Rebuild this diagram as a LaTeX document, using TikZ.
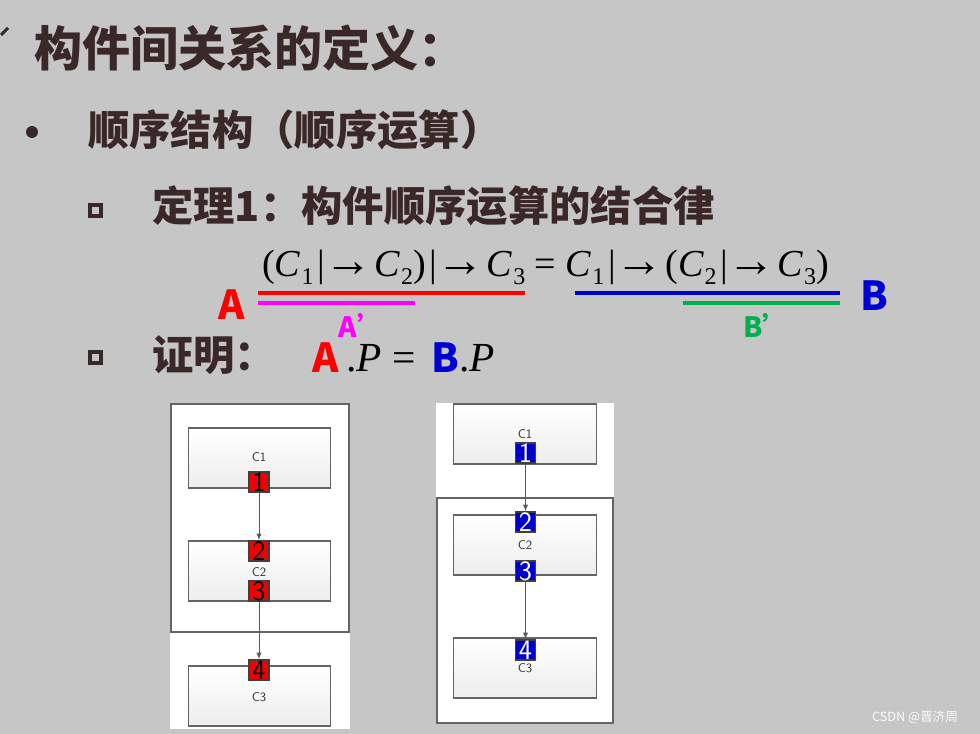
\documentclass[tikz,border=0pt]{standalone}
\usepackage{fontspec}
\setmainfont{Liberation Serif}
\newfontfamily\cjk{Noto Sans CJK SC}
\newfontfamily\lab{Noto Sans CJK SC}
\usetikzlibrary{positioning,arrows.meta}

\definecolor{slide}{RGB}{198,198,198}
\definecolor{ink}{RGB}{58,40,40}
\definecolor{tagred}{RGB}{240,0,0}
\definecolor{tagblue}{RGB}{0,0,200}
\definecolor{lnred}{RGB}{255,0,0}
\definecolor{lnmag}{RGB}{255,0,255}
\definecolor{lnblue}{RGB}{0,0,210}
\definecolor{lngreen}{RGB}{0,176,80}
\definecolor{edge}{RGB}{100,100,100}

\newcommand\cc[1]{\textit{C}\kern0.02em\raisebox{-0.5ex}{\fontsize{18}{18}\selectfont #1}}
\newcommand\sq{\kern0.1em|\kern-0.02em{\fontsize{36}{36}\selectfont→}\kern0.06em}

\tikzset{
  headline/.style={anchor=west,text=ink,font=\cjk\bfseries\fontsize{36}{42}\selectfont},
  subline/.style={anchor=west,text=ink,font=\cjk\bfseries\fontsize{31}{38}\selectfont},
  biglab/.style={font=\lab\bfseries\fontsize{30}{30}\selectfont},
  smalllab/.style={font=\lab\bfseries\fontsize{21}{21}\selectfont},
  uline/.style={line width=3pt},
  frame/.style={draw=edge,fill=white,line width=0.8pt},
  compbox/.style={draw=edge,line width=0.9pt,top color=white,bottom color=black!7,
    minimum width=107pt,minimum height=45pt},
  redtag/.style={draw=black!75,line width=1.2pt,fill=tagred,minimum size=15pt,
    font=\sffamily\fontsize{21}{21}\selectfont,text=black},
  bluetag/.style={draw=black!75,line width=1.2pt,fill=tagblue,minimum size=15pt,
    font=\sffamily\fontsize{21}{21}\selectfont,text=white},
  boxlab/.style={font=\sffamily\fontsize{9.5}{9.5}\selectfont,text=black!80},
  link/.style={draw=black!65,line width=0.7pt,-{Latex[length=5pt,width=4pt]}}
}

\begin{document}
\begin{tikzpicture}[x=0.75pt,y=-0.75pt,every node/.style={inner sep=0pt}]
\useasboundingbox (0,0) rectangle (980,734);
\fill[slide] (0,0) rectangle (980,734);

% headings
\draw[ink,line width=2.2pt] (1,35) -- (8,28);
\node[headline] (title) at (34,48) {构件间关系的定义：};
\fill[ink] (32,132) circle (6);
\node[subline] (seq) at (88,130) {顺序结构（顺序运算）};
\draw[ink,line width=2.5pt] (90,205) rectangle (101,216);
\node[subline] (thm) at (152,206) {定理1：构件顺序运算的结合律};
\draw[ink,line width=2.5pt] (90,352) rectangle (101,363);
\node[subline] (prf) at (152,355) {证明：};

% formula
\node[anchor=base west,font=\fontsize{28.6}{34}\selectfont] (law) at (262,276)
  {(\cc1\sq\cc2)\sq\cc3 = \cc1\sq(\cc2\sq\cc3)};
\draw[uline,lnred] (258,293) -- (525,293);
\draw[uline,lnmag] (258,303) -- (415,303);
\draw[uline,lnblue] (575,293) -- (840,293);
\draw[uline,lngreen] (683,303) -- (840,303);
\node[biglab,text=lnred] (la) at (232,305) {A};
\node[smalllab,text=lnmag] (lap) at (362,325) {A’};
\node[biglab,text=lnblue] (lb) at (874,296) {B};
\node[smalllab,text=lngreen] (lbp) at (767,325) {B’};

% A.P = B.P
\node[biglab,text=lnred] (pa) at (326,358) {A};
\node[anchor=west,font=\fontsize{31}{36}\selectfont,right=5pt of pa] (pae) {.\textit{P} =};
\node[biglab,text=lnblue] (pb) at (445,358) {B};
\node[anchor=west,font=\fontsize{31}{36}\selectfont,right=0pt of pb] (pbe) {.\textit{P}};

% left: (C1 |-> C2) |-> C3
\fill[white] (170,632) rectangle (350,729);
\draw[frame] (171,404) rectangle (349,632);
\node[compbox] (a1) at (259.5,458) {};
\node[compbox] (a2) at (259.5,571) {};
\node[compbox] (a3) at (259.5,696) {};
\node[boxlab] at (259,457) {C1};
\node[boxlab] at (259,572) {C2};
\node[boxlab] at (259,697) {C3};
\node[redtag] (r1) at (259,482) {1};
\node[redtag] (r2) at (259,551) {2};
\node[redtag] (r3) at (259,591) {3};
\node[redtag] (r4) at (259,670) {4};
\draw[link] (r1) -- (r2);
\draw[link] (r3) -- (r4);

% right: C1 |-> (C2 |-> C3)
\fill[white] (436,403) rectangle (614,498);
\draw[frame] (437,498) rectangle (613,723);
\node[compbox] (b1) at (525,434) {};
\node[compbox] (b2) at (525,545) {};
\node[compbox] (b3) at (525,668) {};
\node[boxlab] at (525,434) {C1};
\node[boxlab] at (525,545) {C2};
\node[boxlab] at (525,668) {C3};
\node[bluetag] (u1) at (525.5,453) {1};
\node[bluetag] (u2) at (525.5,522) {2};
\node[bluetag] (u3) at (525.5,571) {3};
\node[bluetag] (u4) at (525.5,650) {4};
\draw[link] (u1) -- (u2);
\draw[link] (u3) -- (u4);

\node[font=\cjk\fontsize{9.5}{10}\selectfont,text=white!92!slide] (mark) at (915,717) {CSDN @晋济周};
\end{tikzpicture}
\end{document}
